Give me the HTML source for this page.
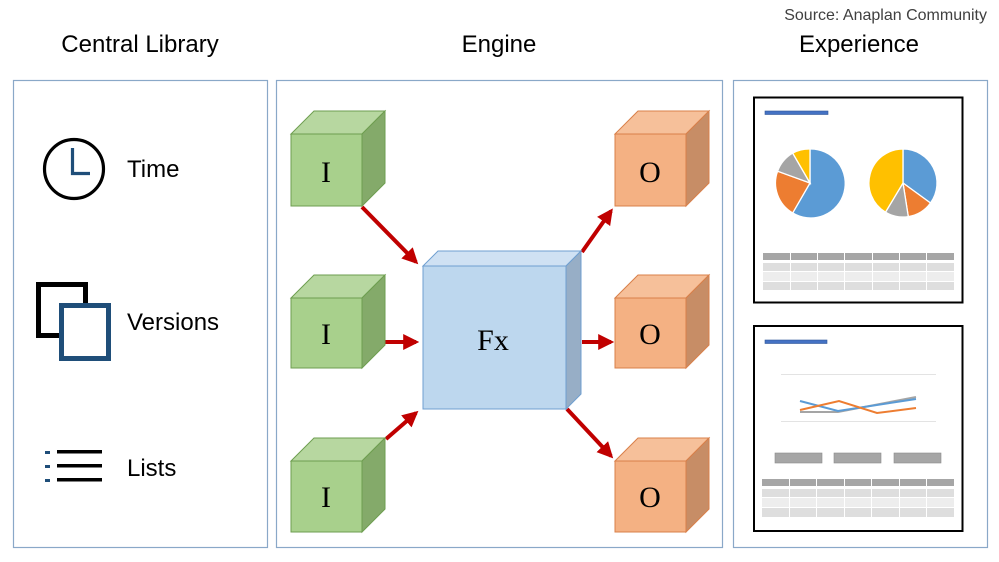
<!DOCTYPE html>
<html><head><meta charset="utf-8"><style>
html,body{margin:0;padding:0;background:#fff;}
svg{display:block;}
text{font-family:"Liberation Sans",sans-serif;}
</style></head><body>
<svg width="999" height="562" viewBox="0 0 999 562" xmlns="http://www.w3.org/2000/svg">
<defs>
<marker id="ah" markerWidth="4" markerHeight="4" refX="3.2" refY="2" orient="auto" markerUnits="strokeWidth">
<path d="M0,0 L4,2 L0,4 Z" fill="#c00000"/>
</marker>
</defs>
<rect width="999" height="562" fill="#fff"/>
<text x="987" y="20" font-size="16" fill="#404040" text-anchor="end">Source: Anaplan Community</text>
<text x="140" y="52" font-size="24" text-anchor="middle" fill="#000">Central Library</text>
<text x="499" y="52" font-size="24" text-anchor="middle" fill="#000">Engine</text>
<text x="859" y="52" font-size="24" text-anchor="middle" fill="#000">Experience</text>

<rect x="13.5" y="80.5" width="254" height="467" fill="#fff" stroke="#8aa8c8" stroke-width="1.2"/>
<rect x="276.5" y="80.5" width="446" height="467" fill="#fff" stroke="#8aa8c8" stroke-width="1.2"/>
<rect x="733.5" y="80.5" width="254" height="467" fill="#fff" stroke="#8aa8c8" stroke-width="1.2"/>

<circle cx="74" cy="169" r="29.5" fill="none" stroke="#000" stroke-width="3.2"/>
<path d="M72.5,148 V173.5 H90" fill="none" stroke="#1f4e79" stroke-width="3.2"/>
<text x="127" y="177" font-size="24" fill="#000">Time</text>
<rect x="38.5" y="284.5" width="47" height="51" fill="none" stroke="#000" stroke-width="5"/>
<rect x="61.5" y="305.5" width="47" height="53" fill="#fff" stroke="#1f4e79" stroke-width="5"/>
<text x="127" y="330" font-size="24" fill="#000">Versions</text>
<g fill="#1f4e79"><rect x="45" y="451" width="5" height="3"/><rect x="45" y="465" width="5" height="3"/><rect x="45" y="479" width="5" height="3"/></g>
<g fill="#000"><rect x="57" y="450" width="45" height="3.5"/><rect x="57" y="464" width="45" height="3.5"/><rect x="57" y="478" width="45" height="3.5"/></g>
<text x="127" y="476" font-size="24" fill="#000">Lists</text>

<g stroke="#c00000" stroke-width="4" fill="none" marker-end="url(#ah)">
<line x1="362" y1="207" x2="416" y2="262"/>
<line x1="362" y1="342" x2="416" y2="342"/>
<line x1="386" y1="439" x2="416" y2="413"/>
<line x1="582" y1="252" x2="611" y2="211"/>
<line x1="582" y1="342" x2="611" y2="342"/>
<line x1="567" y1="409" x2="611" y2="456"/>
</g>

<g stroke-width="1">
<g stroke="#6e9e50">
<polygon points="291,134 314,111 385,111 362,134" fill="#b7d7a0"/>
<polygon points="362,134 385,111 385,183 362,206" fill="#84aa6a"/>
<rect x="291" y="134" width="71" height="72" fill="#a8d08c"/>
<polygon points="291,298 314,275 385,275 362,298" fill="#b7d7a0"/>
<polygon points="362,298 385,275 385,345 362,368" fill="#84aa6a"/>
<rect x="291" y="298" width="71" height="70" fill="#a8d08c"/>
<polygon points="291,461 314,438 385,438 362,461" fill="#b7d7a0"/>
<polygon points="362,461 385,438 385,509 362,532" fill="#84aa6a"/>
<rect x="291" y="461" width="71" height="71" fill="#a8d08c"/>
</g>
<g stroke="#d9804a">
<polygon points="615,134 638,111 709,111 686,134" fill="#f6c09a"/>
<polygon points="686,134 709,111 709,183 686,206" fill="#c78d66"/>
<rect x="615" y="134" width="71" height="72" fill="#f4b183"/>
<polygon points="615,298 638,275 709,275 686,298" fill="#f6c09a"/>
<polygon points="686,298 709,275 709,345 686,368" fill="#c78d66"/>
<rect x="615" y="298" width="71" height="70" fill="#f4b183"/>
<polygon points="615,461 638,438 709,438 686,461" fill="#f6c09a"/>
<polygon points="686,461 709,438 709,509 686,532" fill="#c78d66"/>
<rect x="615" y="461" width="71" height="71" fill="#f4b183"/>
</g>
<g stroke="#6f9fd0">
<polygon points="423,266 438,251 581,251 566,266" fill="#cfe1f3"/>
<polygon points="566,266 581,251 581,394 566,409" fill="#97aec6"/>
<rect x="423" y="266" width="143" height="143" fill="#bdd7ee"/>
</g>
</g>
<g font-size="30" text-anchor="middle" fill="#000">
<text style="font-family:'Liberation Serif',serif" x="326" y="182">I</text>
<text style="font-family:'Liberation Serif',serif" x="326" y="344">I</text>
<text style="font-family:'Liberation Serif',serif" x="326" y="507">I</text>
<text style="font-family:'Liberation Serif',serif" x="650" y="182">O</text>
<text style="font-family:'Liberation Serif',serif" x="650" y="344">O</text>
<text style="font-family:'Liberation Serif',serif" x="650" y="507">O</text>
<text style="font-family:'Liberation Serif',serif" x="493" y="350">Fx</text>
</g>

<rect x="754" y="97.5" width="208.5" height="205" fill="#fff" stroke="#000" stroke-width="2"/>
<rect x="765" y="111" width="63" height="3.5" fill="#4472c4" stroke="#2f5597" stroke-width="0.6"/>
<g stroke="#fff" stroke-width="1.3">
<path d="M810,183 L810,149 A34.5,34.5 0 1,1 792.7,212.9 Z" fill="#5b9bd5"/>
<path d="M810,183 L792.7,212.9 A34.5,34.5 0 0,1 777.6,171.2 Z" fill="#ed7d31"/>
<path d="M810,183 L777.6,171.2 A34.5,34.5 0 0,1 792.7,153.1 Z" fill="#a5a5a5"/>
<path d="M810,183 L792.7,153.1 A34.5,34.5 0 0,1 810,149 Z" fill="#ffc000"/>
<path d="M903,183 L903,149 A34,34 0 0,1 930.5,203 Z" fill="#5b9bd5"/>
<path d="M903,183 L930.5,203 A34,34 0 0,1 908.3,216.6 Z" fill="#ed7d31"/>
<path d="M903,183 L908.3,216.6 A34,34 0 0,1 885.5,212.2 Z" fill="#a5a5a5"/>
<path d="M903,183 L885.5,212.2 A34,34 0 0,1 903,149 Z" fill="#ffc000"/>
</g>
<g>
<rect x="763" y="253" width="191" height="7" fill="#a6a6a6"/>
<rect x="763" y="263" width="191" height="8" fill="#dedede"/>
<rect x="763" y="272" width="191" height="9" fill="#ededed"/>
<rect x="763" y="282" width="191" height="8" fill="#dedede"/>
<g stroke="#fff" stroke-width="1"><line x1="790.5" y1="252" x2="790.5" y2="291"/><line x1="817.5" y1="252" x2="817.5" y2="291"/><line x1="844.5" y1="252" x2="844.5" y2="291"/><line x1="872.5" y1="252" x2="872.5" y2="291"/><line x1="899.5" y1="252" x2="899.5" y2="291"/><line x1="926.5" y1="252" x2="926.5" y2="291"/></g>
</g>

<rect x="754" y="326" width="208.5" height="205" fill="#fff" stroke="#000" stroke-width="2"/>
<rect x="765" y="340" width="62" height="3.5" fill="#4472c4" stroke="#2f5597" stroke-width="0.6"/>
<line x1="781" y1="374.5" x2="936" y2="374.5" stroke="#e3e3e3" stroke-width="1"/>
<line x1="781" y1="421.5" x2="936" y2="421.5" stroke="#e3e3e3" stroke-width="1"/>
<polyline points="800,412 838,412 916,397" fill="none" stroke="#a5a5a5" stroke-width="2"/>
<polyline points="800,401 838,411 916,399" fill="none" stroke="#5b9bd5" stroke-width="2"/>
<polyline points="800,410 839,401 877,413 916,408" fill="none" stroke="#ed7d31" stroke-width="2"/>
<g fill="#a6a6a6" stroke="#8c8c8c" stroke-width="0.6">
<rect x="775" y="453" width="47" height="10"/>
<rect x="834" y="453" width="47" height="10"/>
<rect x="894" y="453" width="47" height="10"/>
</g>
<g>
<rect x="762" y="479" width="192" height="7" fill="#a6a6a6"/>
<rect x="762" y="489" width="192" height="8" fill="#dedede"/>
<rect x="762" y="498" width="192" height="9" fill="#ededed"/>
<rect x="762" y="508" width="192" height="9" fill="#dedede"/>
<g stroke="#fff" stroke-width="1"><line x1="789.5" y1="478" x2="789.5" y2="518"/><line x1="816.5" y1="478" x2="816.5" y2="518"/><line x1="844.5" y1="478" x2="844.5" y2="518"/><line x1="871.5" y1="478" x2="871.5" y2="518"/><line x1="899.5" y1="478" x2="899.5" y2="518"/><line x1="926.5" y1="478" x2="926.5" y2="518"/></g>
</g>
</svg>
</body></html>
